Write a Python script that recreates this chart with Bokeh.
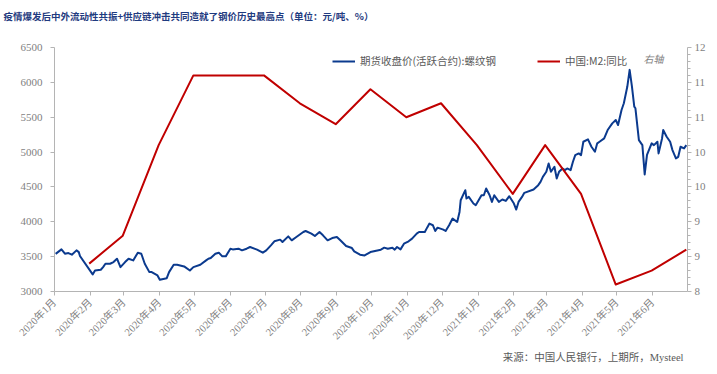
import math
import pandas as pd
from bokeh.plotting import figure
from bokeh.models import (Range1d, LinearAxis, FixedTicker, CustomJSTickFormatter,
                          Label, Legend, LegendItem)
from bokeh.embed import file_html
from bokeh.resources import INLINE

# Rebar futures close (active contract), yuan/ton
rebar_dates = [
    "2020-01-02", "2020-01-07", "2020-01-10", "2020-01-13", "2020-01-16", "2020-01-20",
    "2020-01-22", "2020-01-23", "2020-02-03", "2020-02-05", "2020-02-10", "2020-02-12",
    "2020-02-14", "2020-02-18", "2020-02-21", "2020-02-24", "2020-02-27", "2020-03-02",
    "2020-03-05", "2020-03-09", "2020-03-13", "2020-03-16", "2020-03-19", "2020-03-23",
    "2020-03-25", "2020-03-30", "2020-04-01", "2020-04-07", "2020-04-09", "2020-04-13",
    "2020-04-16", "2020-04-22", "2020-04-27", "2020-04-30", "2020-05-06", "2020-05-11",
    "2020-05-13", "2020-05-15", "2020-05-19", "2020-05-22", "2020-05-25", "2020-05-28",
    "2020-06-01", "2020-06-03", "2020-06-08", "2020-06-11", "2020-06-15", "2020-06-18",
    "2020-06-24", "2020-06-29", "2020-07-02", "2020-07-06", "2020-07-09", "2020-07-14",
    "2020-07-16", "2020-07-21", "2020-07-24", "2020-07-28", "2020-08-03", "2020-08-05",
    "2020-08-10", "2020-08-13", "2020-08-17", "2020-08-20", "2020-08-24", "2020-08-28",
    "2020-09-01", "2020-09-04", "2020-09-09", "2020-09-14", "2020-09-16", "2020-09-21",
    "2020-09-25", "2020-09-30", "2020-10-09", "2020-10-12", "2020-10-15", "2020-10-19",
    "2020-10-21", "2020-10-23", "2020-10-26", "2020-10-29", "2020-11-02", "2020-11-05",
    "2020-11-09", "2020-11-11", "2020-11-16", "2020-11-18", "2020-11-20", "2020-11-23",
    "2020-11-25", "2020-11-27", "2020-12-02", "2020-12-04", "2020-12-07", "2020-12-08",
    "2020-12-10", "2020-12-14", "2020-12-16", "2020-12-17", "2020-12-21", "2020-12-22",
    "2020-12-24", "2020-12-28", "2020-12-30", "2021-01-04", "2021-01-06", "2021-01-08",
    "2021-01-11", "2021-01-13", "2021-01-15", "2021-01-19", "2021-01-22", "2021-01-25",
    "2021-01-28", "2021-02-01", "2021-02-03", "2021-02-05", "2021-02-08", "2021-02-10",
    "2021-02-18", "2021-02-22", "2021-02-24", "2021-02-26", "2021-03-01", "2021-03-03",
    "2021-03-05", "2021-03-08", "2021-03-10", "2021-03-12", "2021-03-15", "2021-03-17",
    "2021-03-19", "2021-03-22", "2021-03-24", "2021-03-26", "2021-03-29", "2021-03-31",
    "2021-04-02", "2021-04-06", "2021-04-09", "2021-04-12", "2021-04-14", "2021-04-16",
    "2021-04-20", "2021-04-23", "2021-04-27", "2021-04-30", "2021-05-02", "2021-05-05",
    "2021-05-07", "2021-05-10", "2021-05-12", "2021-05-14", "2021-05-16", "2021-05-17",
    "2021-05-20", "2021-05-23", "2021-05-25", "2021-05-27", "2021-05-31", "2021-06-02",
    "2021-06-05", "2021-06-06", "2021-06-09", "2021-06-10", "2021-06-13", "2021-06-16",
    "2021-06-18", "2021-06-21", "2021-06-23", "2021-06-25", "2021-06-28", "2021-06-30",
]
rebar_close = [
    3540, 3604, 3542, 3551, 3528, 3590,
    3565, 3510, 3245, 3302, 3312, 3350,
    3398, 3398, 3422, 3470, 3350, 3422,
    3470, 3446, 3557, 3542, 3398, 3278,
    3278, 3230, 3168, 3191, 3278, 3384,
    3384, 3360, 3302, 3350, 3384, 3446,
    3470, 3480, 3542, 3557, 3504, 3504,
    3614, 3604, 3614, 3590, 3614, 3638,
    3600, 3557, 3590, 3662, 3720, 3744,
    3710, 3791, 3734, 3782, 3853, 3868,
    3830, 3796, 3853, 3806, 3734, 3767,
    3782, 3734, 3652, 3623, 3576, 3528,
    3518, 3566, 3600, 3629, 3614, 3629,
    3600, 3638, 3604, 3686, 3720, 3758,
    3830, 3853, 3853, 3916, 3974, 3950,
    3868, 3916, 3888, 3868, 3950, 3983,
    4046, 3997, 4141, 4309, 4453, 4334,
    4357, 4262, 4237, 4381, 4381, 4477,
    4381, 4285, 4381, 4285, 4319, 4299,
    4367, 4262, 4175, 4285, 4357, 4415,
    4463, 4525, 4573, 4645, 4717, 4837,
    4717, 4789, 4621, 4717, 4765, 4741,
    4765, 4741, 4861, 4957, 4981, 4957,
    5148, 5182, 5076, 5004, 5125, 5148,
    5196, 5316, 5412, 5460, 5388, 5604,
    5700, 5940, 6179, 5940, 5652, 5628,
    5172, 5100, 4680, 4960, 5125, 5100,
    5148, 4981, 5196, 5316, 5220, 5148,
    5028, 4909, 4932, 5076, 5053, 5100,
]

# China M2 year-on-year growth, %, month-end
m2_dates = [
    "2020-01-31", "2020-02-29", "2020-03-31", "2020-04-30", "2020-05-31", "2020-06-30",
    "2020-07-31", "2020-08-31", "2020-09-30", "2020-10-31", "2020-11-30", "2020-12-31",
    "2021-01-31", "2021-02-28", "2021-03-31", "2021-04-30", "2021-05-31", "2021-06-30",
]
m2_yoy = [8.4, 8.8, 10.1, 11.1, 11.1, 11.1, 10.7, 10.4, 10.9, 10.5, 10.7, 10.1,
          9.4, 10.1, 9.4, 8.1, 8.3, 8.6]

left_ticks = [3000, 3500, 4000, 4500, 5000, 5500, 6000, 6500]
right_ticks = [8.0, 8.5, 9.0, 9.5, 10.0, 10.5, 11.0, 11.5]
month_ticks = pd.date_range("2020-01-01", "2021-06-01", freq="MS")

TITLE = "疫情爆发后中外流动性共振+供应链冲击共同造就了钢价历史最高点（单位：元/吨、%）"
SOURCE = "来源：中国人民银行，上期所，Mysteel"
NAME_REBAR = "期货收盘价(活跃合约):螺纹钢"
NAME_M2 = "中国:M2:同比"

BLUE = "#0B3A8E"
RED = "#C00000"
AXIS_GRAY = "#B4B4B4"
TEXT_GRAY = "#7F7F7F"
CJK = "Noto Sans CJK SC"
SERIF = "'Liberation Serif', 'Noto Sans CJK SC'"

p = figure(width=717, height=374, x_axis_type="datetime",
           output_backend="svg", toolbar_location=None,
           x_range=Range1d(pd.Timestamp("2020-01-01"), pd.Timestamp("2021-07-01")),
           y_range=Range1d(3000, 6500),
           min_border_left=54, min_border_right=30,
           min_border_top=47, min_border_bottom=83)
p.outline_line_color = None
p.xgrid.visible = False
p.ygrid.visible = False
p.background_fill_color = "white"
p.border_fill_color = "white"

p.extra_y_ranges = {"m2": Range1d(8, 11.5)}


def style_axis(ax, major_out=4, minor_out=0):
    ax.axis_line_color = AXIS_GRAY
    ax.major_tick_line_color = AXIS_GRAY
    ax.minor_tick_line_color = AXIS_GRAY
    ax.major_tick_in = 0
    ax.major_tick_out = major_out
    ax.minor_tick_in = 0
    ax.minor_tick_out = minor_out
    ax.major_label_text_color = TEXT_GRAY
    ax.major_label_text_font = SERIF
    ax.major_label_text_font_size = "11px"


# bottom date axis, one tick per month
xax = p.xaxis[0]
xax.ticker = FixedTicker(ticks=[t.timestamp() * 1000 for t in month_ticks], minor_ticks=[])
xax.formatter = CustomJSTickFormatter(
    code="const d = new Date(tick); return d.getUTCFullYear() + '年' + (d.getUTCMonth() + 1) + '月';")
xax.major_label_orientation = math.pi / 4
style_axis(xax)
xax.major_label_text_font_size = "10.5px"

# left price axis
yax = p.yaxis[0]
yax.ticker = FixedTicker(ticks=left_ticks, minor_ticks=[])
style_axis(yax)
yax.major_label_standoff = 8

# right M2 axis, labels rounded to whole numbers
minor_right = [round(8 + 0.1 * i, 1) for i in range(36) if i % 5]
rax = LinearAxis(y_range_name="m2",
                 ticker=FixedTicker(ticks=right_ticks, minor_ticks=minor_right),
                 formatter=CustomJSTickFormatter(code="return Math.round(tick).toString();"))
style_axis(rax, major_out=4, minor_out=3)
rax.major_label_standoff = 3
p.add_layout(rax, "right")

r_rebar = p.line(x=pd.to_datetime(rebar_dates), y=rebar_close, line_color=BLUE,
                 line_width=2, line_join="round")
r_m2 = p.line(x=pd.to_datetime(m2_dates), y=m2_yoy, y_range_name="m2",
              line_color=RED, line_width=2, line_join="round")


def make_legend(label, renderer, loc):
    return Legend(items=[LegendItem(label=label, renderers=[renderer])],
                  location=loc, orientation="horizontal", padding=0, margin=0,
                  border_line_color=None, background_fill_alpha=0,
                  glyph_width=23, glyph_height=10, label_height=10, label_standoff=5,
                  label_text_font=CJK, label_text_font_size="10.5px",
                  label_text_color="#595959")


p.add_layout(make_legend(NAME_REBAR, r_rebar, (278, 223)))
p.add_layout(make_legend(NAME_M2, r_m2, (483, 223)))

p.add_layout(Label(x=589, y=233, x_units="screen", y_units="screen", text="右轴",
                   text_font=CJK, text_font_style="italic", text_font_size="10px",
                   text_color=TEXT_GRAY, text_baseline="middle"))

# heading and source line sit in the border panels, positioned in canvas pixels
p.add_layout(Label(x=3, y=15, x_units="canvas", y_units="canvas", text=TITLE,
                   text_font=CJK, text_font_style="bold", text_font_size="9.5px",
                   text_color="#1F3B80", text_baseline="middle"), "above")
p.add_layout(Label(x=683, y=357, x_units="canvas", y_units="canvas", text=SOURCE,
                   text_font=SERIF, text_font_size="10.5px", text_color="#595959",
                   text_align="right", text_baseline="middle"), "below")

open("out.html", "w").write(file_html(p, INLINE))
